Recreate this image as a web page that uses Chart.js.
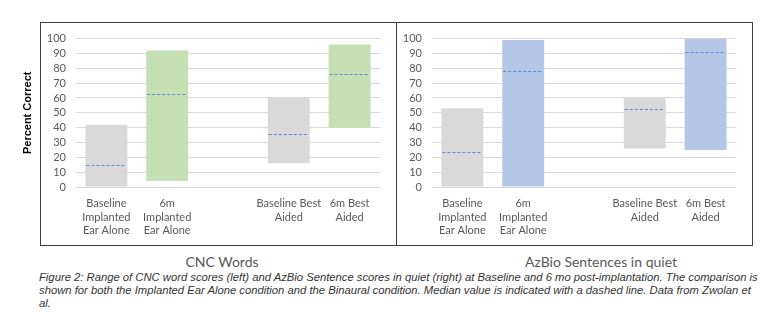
<!DOCTYPE html>
<html>
<head>
<meta charset="utf-8">
<script src="https://cdn.jsdelivr.net/npm/chart.js@4"></script>
<style>
  html,body{margin:0;padding:0;background:#fff;}
  body{width:768px;height:322px;position:relative;overflow:hidden;}
  .box{position:absolute;border:1px solid #404040;box-sizing:border-box;}
  .cw{position:absolute;}
  .ttl{position:absolute;font-family:Lato,"Open Sans",sans-serif;font-size:14px;color:#595959;white-space:nowrap;transform:translate(-50%,-50%);}
  .cap{position:absolute;left:39px;top:270.5px;font-family:"Liberation Sans",Arial,sans-serif;font-style:italic;font-size:11.25px;line-height:13.2px;color:#333;white-space:nowrap;}
</style>
</head>
<body>
<div class="box" style="left:40px;top:22px;width:357px;height:224px;"></div>
<div class="box" style="left:396px;top:22px;width:357px;height:224px;"></div>
<div class="cw" style="left:0px;top:22px;width:396px;height:223px;"><canvas id="c1"></canvas></div>
<div class="cw" style="left:396px;top:22px;width:357px;height:223px;"><canvas id="c2"></canvas></div>
<div class="ttl" style="left:222px;top:261px;">CNC Words</div>
<div class="ttl" style="left:601px;top:261px;">AzBio Sentences in quiet</div>
<div class="cap">Figure 2: Range of CNC word scores (left) and AzBio Sentence scores in quiet (right) at Baseline and 6 mo post-implantation. The comparison is<br>shown for both the Implanted Ear Alone condition and the Binaural condition. Median value is indicated with a dashed line. Data from Zwolan et<br>al.</div>
<script>
// ---- data ----
const categories = [["Baseline","Implanted","Ear Alone"],["6m","Implanted","Ear Alone"],"",["Baseline Best","Aided"],["6m Best","Aided"]];
const cncLow    = [0, 4, null, 16, 40];
const cncHigh   = [42, 92, null, 60, 96];
const cncMedian = [15, 63, null, 36, 76];
const azLow     = [0, 0, null, 26, 25];
const azHigh    = [53, 99, null, 60, 100];
const azMedian  = [23.5, 78, null, 52.5, 91];
const yMin = 0, yMax = 100, yStep = 10;
const axisTitle = "Percent Correct";

const GRAY = '#d9d9d9', GREEN = '#c5e0b4', BLUE = '#b4c7e7';

const medianPlugin = {
  id: 'medianLines',
  afterDatasetsDraw(chart) {
    const meds = chart.options.plugins.medianLines.values;
    const meta = chart.getDatasetMeta(0);
    const y = chart.scales.y;
    const ctx = chart.ctx;
    ctx.save();
    ctx.strokeStyle = '#5b87d4';
    ctx.lineWidth = 1;
    ctx.setLineDash([3, 2]);
    meta.data.forEach((bar, i) => {
      if (meds[i] == null) return;
      const py = Math.round(y.getPixelForValue(meds[i])) + 0.5;
      const w = bar.width;
      ctx.beginPath();
      ctx.moveTo(bar.x - w / 2 + 1, py);
      ctx.lineTo(bar.x + w / 2 - 1, py);
      ctx.stroke();
    });
    ctx.restore();
  }
};

function makeChart(id, low, high, med, colour, yWidth, rightPad, showTitle) {
  const data = low.map((l, i) => (l == null ? null : [l, high[i]]));
  const colors = low.map((l, i) => (i === 0 || i === 3) ? GRAY : colour);
  return new Chart(document.getElementById(id), {
    type: 'bar',
    data: { labels: categories, datasets: [{ data, backgroundColor: colors, borderWidth: 0,
      barPercentage: 0.69, categoryPercentage: 1.0 }] },
    options: {
      responsive: true, maintainAspectRatio: false, animation: false,
      layout: { padding: { top: 15, right: rightPad, left: 0, bottom: 0 } },
      plugins: { legend: { display: false }, tooltip: { enabled: false },
                 medianLines: { values: med } },
      scales: {
        x: {
          grid: { display: false, drawTicks: false },
          border: { display: false },
          ticks: { color: '#595959', font: { family: 'Lato', size: 11, lineHeight: 1.23 }, padding: 10, maxRotation: 0, autoSkip: false },
          afterFit(s) { s.height = 58; }
        },
        y: {
          min: yMin, max: yMax,
          grid: { color: '#d9d9d9', lineWidth: 1, drawTicks: false },
          border: { display: false },
          ticks: { stepSize: yStep, autoSkip: false, color: '#595959', font: { family: 'Lato', size: 11 }, padding: 10 },
          title: { display: showTitle, text: axisTitle, color: '#000',
                   font: { family: 'Liberation Sans', size: 11, weight: 'bold' }, padding: { top: 21, bottom: 0 } },
          afterFit(s) { s.width = yWidth; }
        }
      }
    },
    plugins: [medianPlugin]
  });
}

makeChart('c1', cncLow, cncHigh, cncMedian, GREEN, 76, 16, true);
makeChart('c2', azLow, azHigh, azMedian, BLUE, 36, 17, false);
</script>
</body>
</html>
